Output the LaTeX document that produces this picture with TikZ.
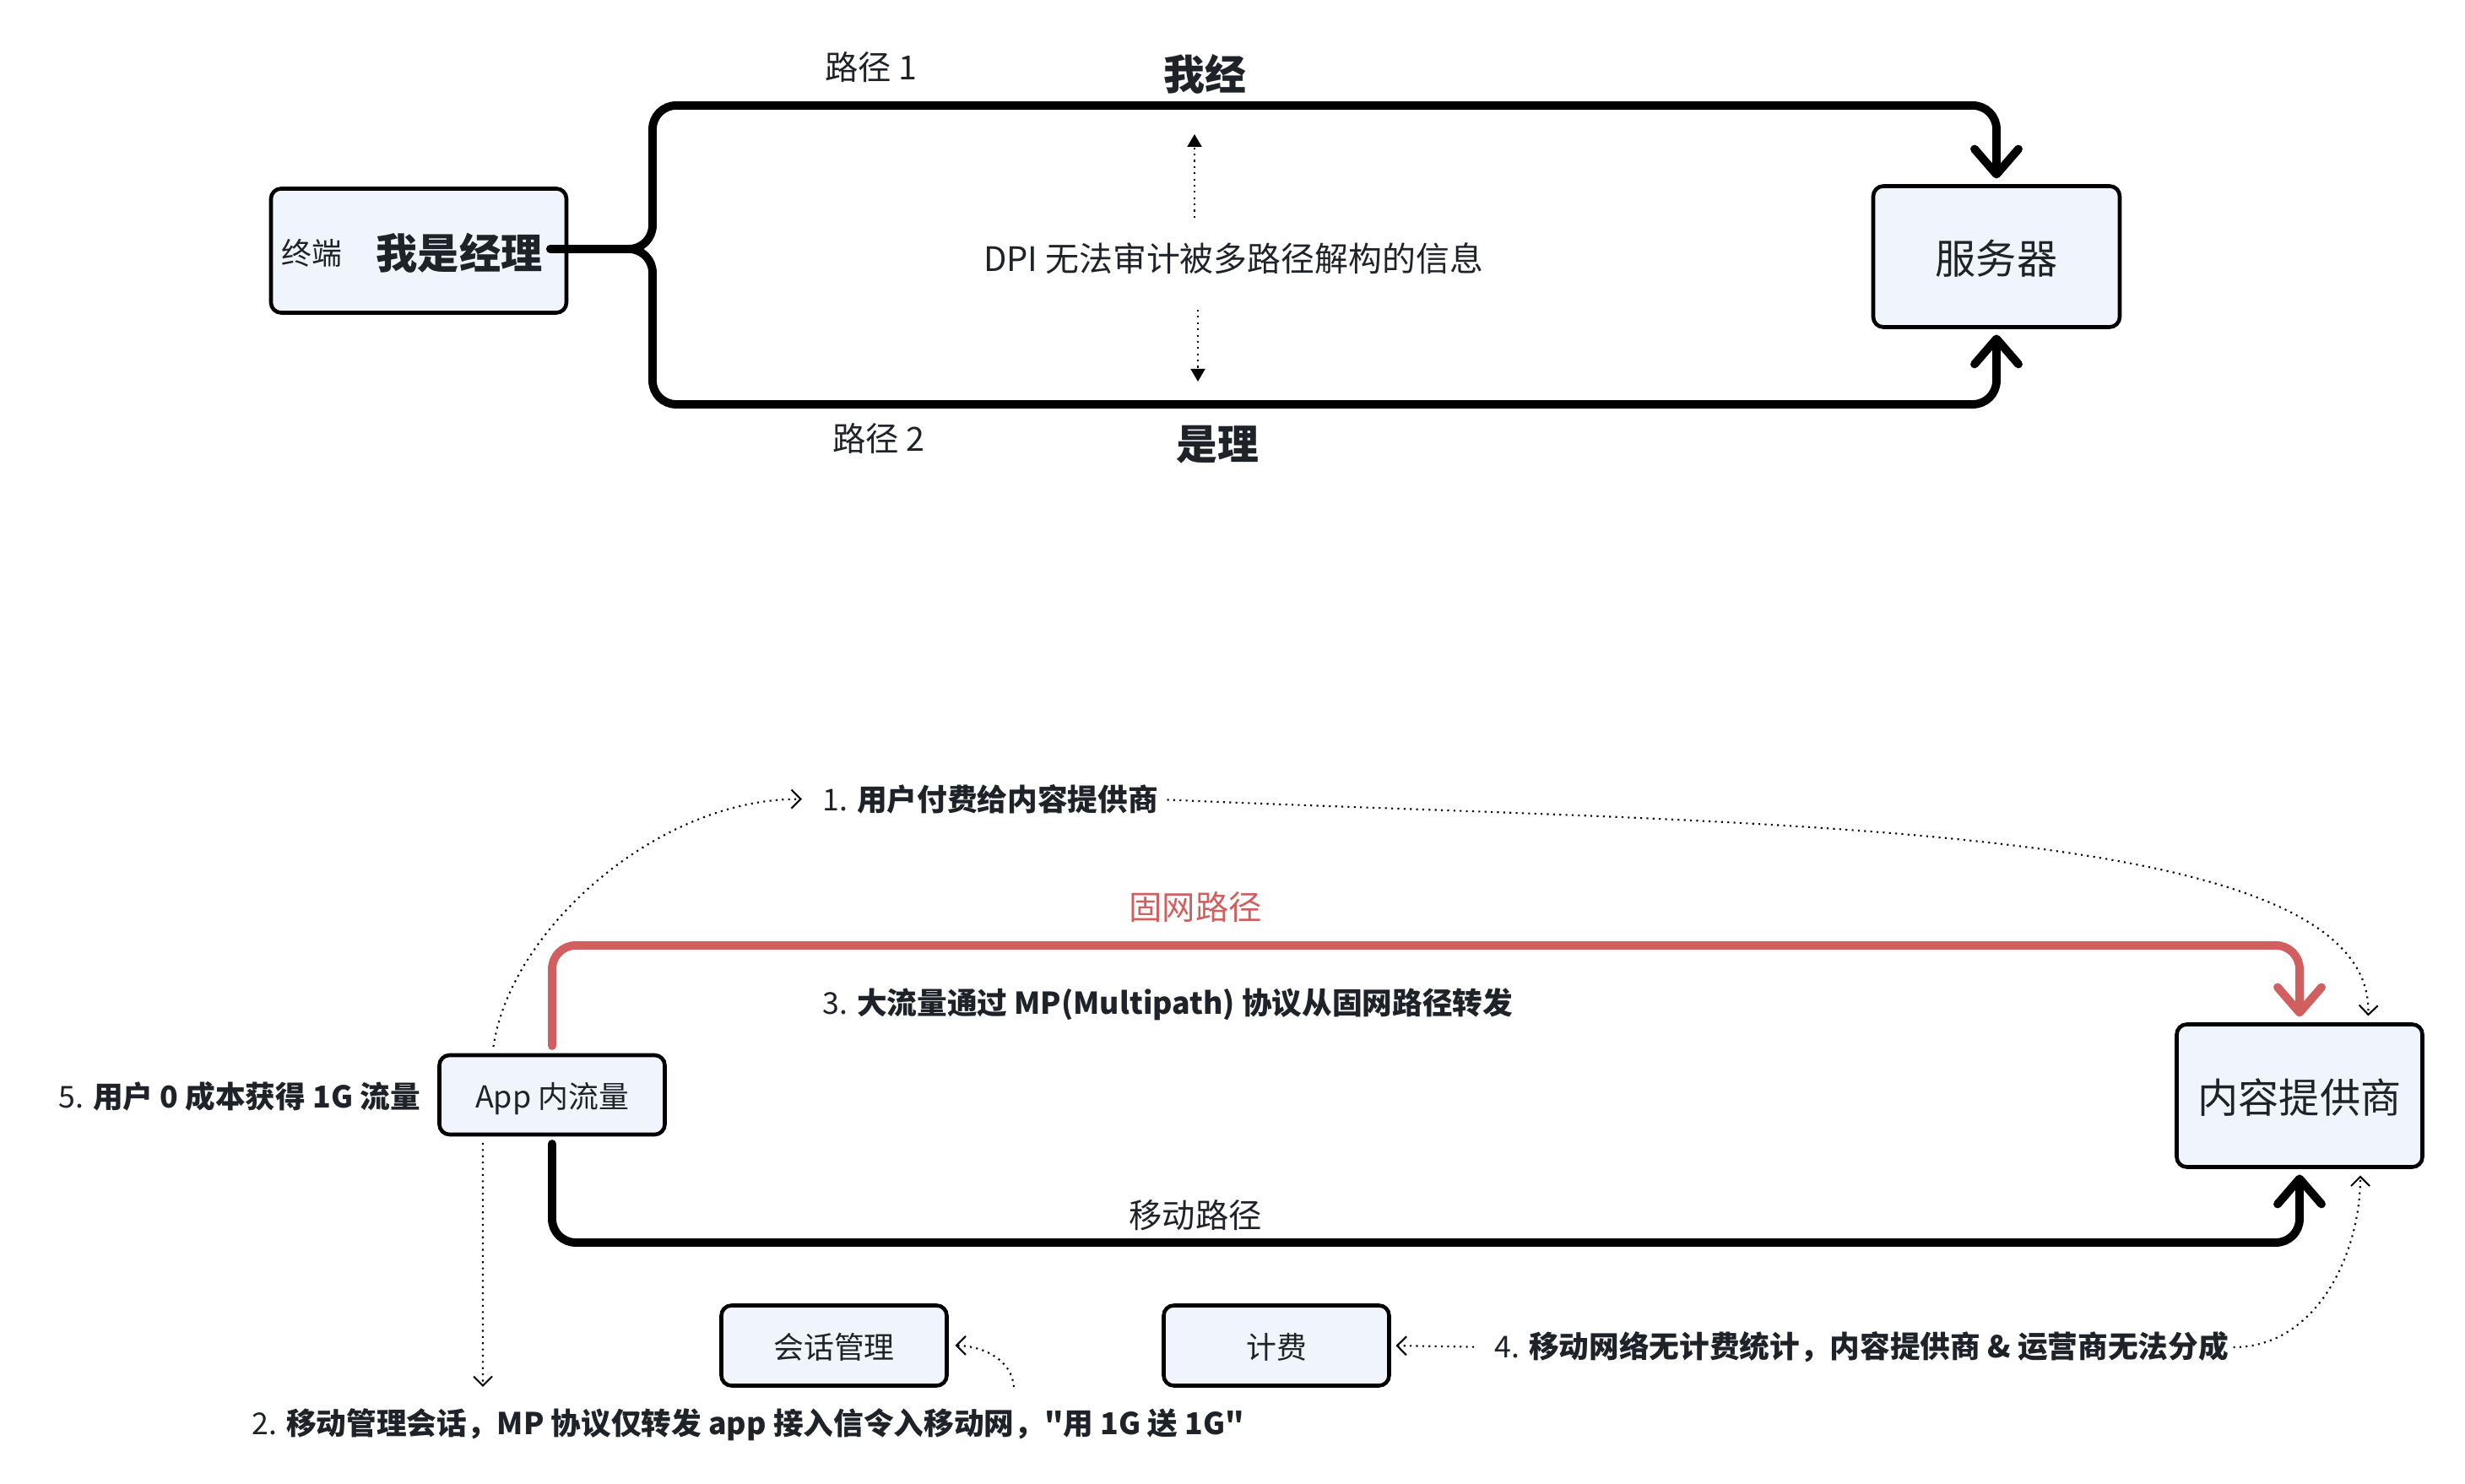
\documentclass[tikz,border=0pt]{standalone}
\usepackage{fontspec}
\setmainfont{Noto Sans CJK SC}
\newfontfamily\quotefont{Noto Sans CJK SC}
\usetikzlibrary{calc,arrows.meta}
\definecolor{inkdark}{HTML}{1F2329}
\definecolor{boxfill}{HTML}{F0F4FC}
\definecolor{routered}{HTML}{D25F5F}

\begin{document}
\begin{tikzpicture}
\tikzstyle{box}=[draw=black,fill=boxfill,text=inkdark,line width=1.3pt,rounded corners=0.12cm,inner sep=0pt,outer sep=0pt]
\tikzstyle{smallbox}=[box,text height=0.35cm,text depth=0.042cm,font=\fontsize{10.2}{13}\selectfont]
\tikzstyle{bigbox}=[box,text height=0.46cm,text depth=0.056cm,font=\fontsize{13.7}{16}\selectfont]
\tikzstyle{route}=[line width=2.8pt,line cap=round,rounded corners=0.28cm,shorten >=0.09cm,-{Straight Barb[length=0.3cm,width=0.52cm,round]}]
\tikzstyle{noteline}=[line width=0.6pt,dash pattern=on 0.6pt off 1.5pt,-{Straight Barb[length=0.11cm,width=0.22cm,line width=0.6pt]}]
\tikzstyle{tipline}=[line width=0.6pt,dash pattern=on 0.6pt off 1.5pt,-{Triangle[length=0.15cm,width=0.17cm]}]
\tikzstyle{label}=[text=inkdark,inner sep=0pt,font=\fontsize{11.2}{14}\selectfont]
\tikzstyle{steptext}=[text=inkdark,inner sep=0pt,anchor=west,font=\fontsize{10.15}{13}\selectfont]

\useasboundingbox (0,0) rectangle (29.2,17.58);

\node (term) [box,minimum width=3.50cm,minimum height=1.47cm] at (4.96,14.61) {};
\node (serv) [bigbox,minimum width=2.92cm,minimum height=1.67cm] at (23.65,14.54) {服务器};
\node (termsmall) [label,font=\fontsize{10.2}{13}\selectfont] at (3.69,14.58) {终端};
\node (termbig) [label,font=\fontsize{14}{17}\selectfont\bfseries] at (5.44,14.58) {我是经理};

\coordinate (termout) at (6.52,14.63);
\coordinate (uppath) at (7.73,16.33);
\coordinate (lowpath) at (7.73,12.79);
\draw [route] (termout) -| (uppath) -| (serv.north);
\draw [route] (termout) -| (lowpath) -| (serv.south);

\node (path1) [label] at (10.32,16.78) {路径 1};
\node (path2) [label] at (10.41,12.38) {路径 2};
\node (upname) [label,font=\fontsize{13.9}{17}\selectfont\bfseries] at (14.27,16.70) {我经};
\node (lowname) [label,font=\fontsize{13.9}{17}\selectfont\bfseries] at (14.42,12.31) {是理};
\node (dpi) [label,font=\fontsize{11.35}{14}\selectfont] at (14.61,14.52) {DPI 无法审计被多路径解构的信息};

\coordinate (dpiup1) at (14.15,15.00);
\coordinate (dpiup2) at (14.15,15.99);
\coordinate (dpidown1) at (14.19,13.91);
\coordinate (dpidown2) at (14.19,13.06);
\draw [tipline] (dpiup1) -- (dpiup2);
\draw [tipline] (dpidown1) -- (dpidown2);

\node (app) [smallbox,minimum width=2.67cm,minimum height=0.94cm] at (6.54,4.61) {App 内流量};
\node (prov) [bigbox,minimum width=2.91cm,minimum height=1.69cm] at (27.24,4.60) {内容提供商};
\node (sess) [smallbox,minimum width=2.67cm,minimum height=0.95cm] at (9.88,1.64) {会话管理};
\node (bill) [smallbox,minimum width=2.67cm,minimum height=0.95cm] at (15.12,1.64) {计费};

\coordinate (redpath) at (6.54,6.38);
\coordinate (blackpath) at (6.54,2.86);
\draw [route,draw=routered,shorten <=0.11cm] (app.north) -- (redpath) -| (prov.north);
\draw [route,shorten <=0.11cm] (app.south) -- (blackpath) -| (prov.south);

\node (fixedname) [label,text=routered] at (14.16,6.83) {固网路径};
\node (mobilename) [label] at (14.16,3.18) {移动路径};

\node (step1) [steptext] at (9.74,8.11) {1. \textbf{用户付费给内容提供商}};
\node (step2) [steptext] at (2.98,0.70) {2. \textbf{移动管理会话，MP 协议仅转发 app 接入信令入移动网，{\quotefont"}用 1G 送 1G{\quotefont"}}};
\node (step3) [steptext] at (9.74,5.685) {3. \textbf{大流量通过 MP(Multipath) 协议从固网路径转发}};
\node (step4) [steptext] at (17.70,1.62) {4. \textbf{移动网络无计费统计，内容提供商 \& 运营商无法分成}};
\node (step5) [steptext] at (0.69,4.59) {5. \textbf{用户 0 成本获得 1G 流量}};

\coordinate (step2top) at (5.72,1.15);
\coordinate (step2mid) at (12.01,1.15);

\draw [noteline,shorten <=0.1cm,shorten >=0.24cm] ([xshift=-0.71cm]app.north) .. controls (6.05,6.59) and (7.82,8.13) .. (step1.west);
\draw [noteline,shorten <=0.1cm,shorten >=0.1cm] (step1.east) .. controls (20.87,7.80) and (28.13,7.89) .. ([xshift=0.81cm]prov.north);
\draw [noteline,shorten <=0.1cm] ([xshift=-0.82cm]app.south) -- (step2top);
\draw [noteline,shorten >=0.1cm] (step2mid) to [out=95,in=0] (sess.east);
\draw [noteline,shorten <=0.24cm,shorten >=0.08cm] (step4.west) -- (bill.east);
\draw [noteline,shorten <=0.05cm,shorten >=0.1cm] (step4.east) to [out=0,in=-90] ([xshift=0.72cm]prov.south);
\end{tikzpicture}
\end{document}
